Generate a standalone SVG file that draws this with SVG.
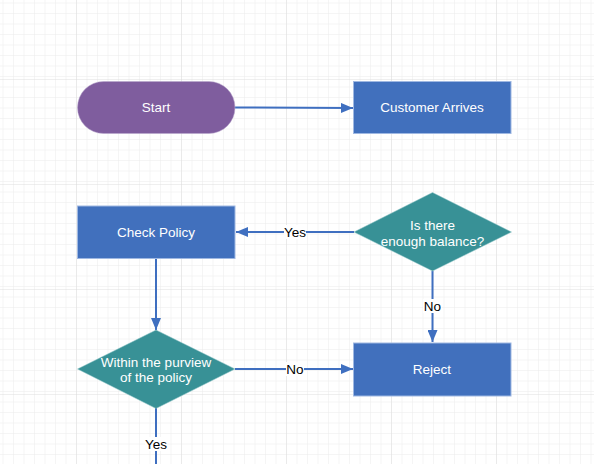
<svg xmlns="http://www.w3.org/2000/svg" width="594" height="464" viewBox="0 0 594 464">
<defs>
<pattern id="minor" x="3.5" y="3.5" width="10.5" height="10.5" patternUnits="userSpaceOnUse">
<path d="M10.5 0V10.5M0 10.5H10.5" fill="none" stroke="#ececec" stroke-width="1"/>
</pattern>
<pattern id="major" x="-28" y="-25" width="105" height="105" patternUnits="userSpaceOnUse">
<path d="M105 0V105M0 105H105" fill="none" stroke="#dedede" stroke-width="1"/>
</pattern>
<marker id="arr" markerWidth="12" markerHeight="10" refX="12" refY="5" orient="auto" markerUnits="userSpaceOnUse">
<path d="M0 0L12 5L0 10Z" fill="#3f6fc0"/>
</marker>
</defs>
<style>
.t{font-family:"Liberation Sans",Arial,sans-serif;font-size:13.5px;fill:#fff;text-anchor:middle;dominant-baseline:central}
.l{font-family:"Liberation Sans",Arial,sans-serif;font-size:13.5px;fill:#000;text-anchor:middle;dominant-baseline:central}
.rect{fill:#4170bd;stroke:#9fb8e2;stroke-width:1}
.dia{fill:#389196;stroke:#8ec4c6;stroke-width:0.5}
.c{fill:none;stroke:#3f6fc0;stroke-width:2}
</style>
<rect width="594" height="464" fill="#fff"/>
<rect width="594" height="464" fill="url(#minor)"/>
<rect width="594" height="464" fill="url(#major)"/>
<g id="connectors">
<path class="c" d="M235 107.5L353 108" marker-end="url(#arr)"/>
<path class="c" d="M354 232H236" marker-end="url(#arr)"/>
<path class="c" d="M432.5 271V342" marker-end="url(#arr)"/>
<path class="c" d="M156 258.5V330" marker-end="url(#arr)"/>
<path class="c" d="M235 369H353" marker-end="url(#arr)"/>
<path class="c" d="M156 408V464"/>
<rect x="284" y="225" width="22" height="14" fill="#fff"/>
<text class="l" x="295" y="232">Yes</text>
<rect x="423" y="299" width="19" height="14" fill="#fff"/>
<text class="l" x="432.5" y="306">No</text>
<rect x="286" y="362" width="18" height="14" fill="#fff"/>
<text class="l" x="295" y="369">No</text>
<rect x="145" y="437" width="22" height="14" fill="#fff"/>
<text class="l" x="156" y="444">Yes</text>
</g>
<g id="start">
<rect x="77.5" y="81.5" width="157.5" height="52" rx="26" fill="#7f5d9e" stroke="#b9a6cc" stroke-width="0.5"/>
<text class="t" x="156" y="107.5">Start</text>
</g>
<g id="customer-arrives">
<rect class="rect" x="353.5" y="81.5" width="157.5" height="52"/>
<text class="t" x="432" y="107.5">Customer Arrives</text>
</g>
<g id="check-policy">
<rect class="rect" x="77.5" y="206" width="157.5" height="52.5"/>
<text class="t" x="156" y="232">Check Policy</text>
</g>
<g id="balance">
<path class="dia" d="M432.5 192.5L511.5 232L432.5 271L354 232Z"/>
<text class="t" x="432.5" y="225">Is there</text>
<text class="t" x="432.5" y="241">enough balance?</text>
</g>
<g id="purview">
<path class="dia" d="M156 330L235 369L156 408.5L77.5 369Z"/>
<text class="t" x="156" y="362">Within the purview</text>
<text class="t" x="156" y="377.5">of the policy</text>
</g>
<g id="reject">
<rect class="rect" x="353.5" y="343" width="157.5" height="53"/>
<text class="t" x="432" y="369">Reject</text>
</g>
</svg>
